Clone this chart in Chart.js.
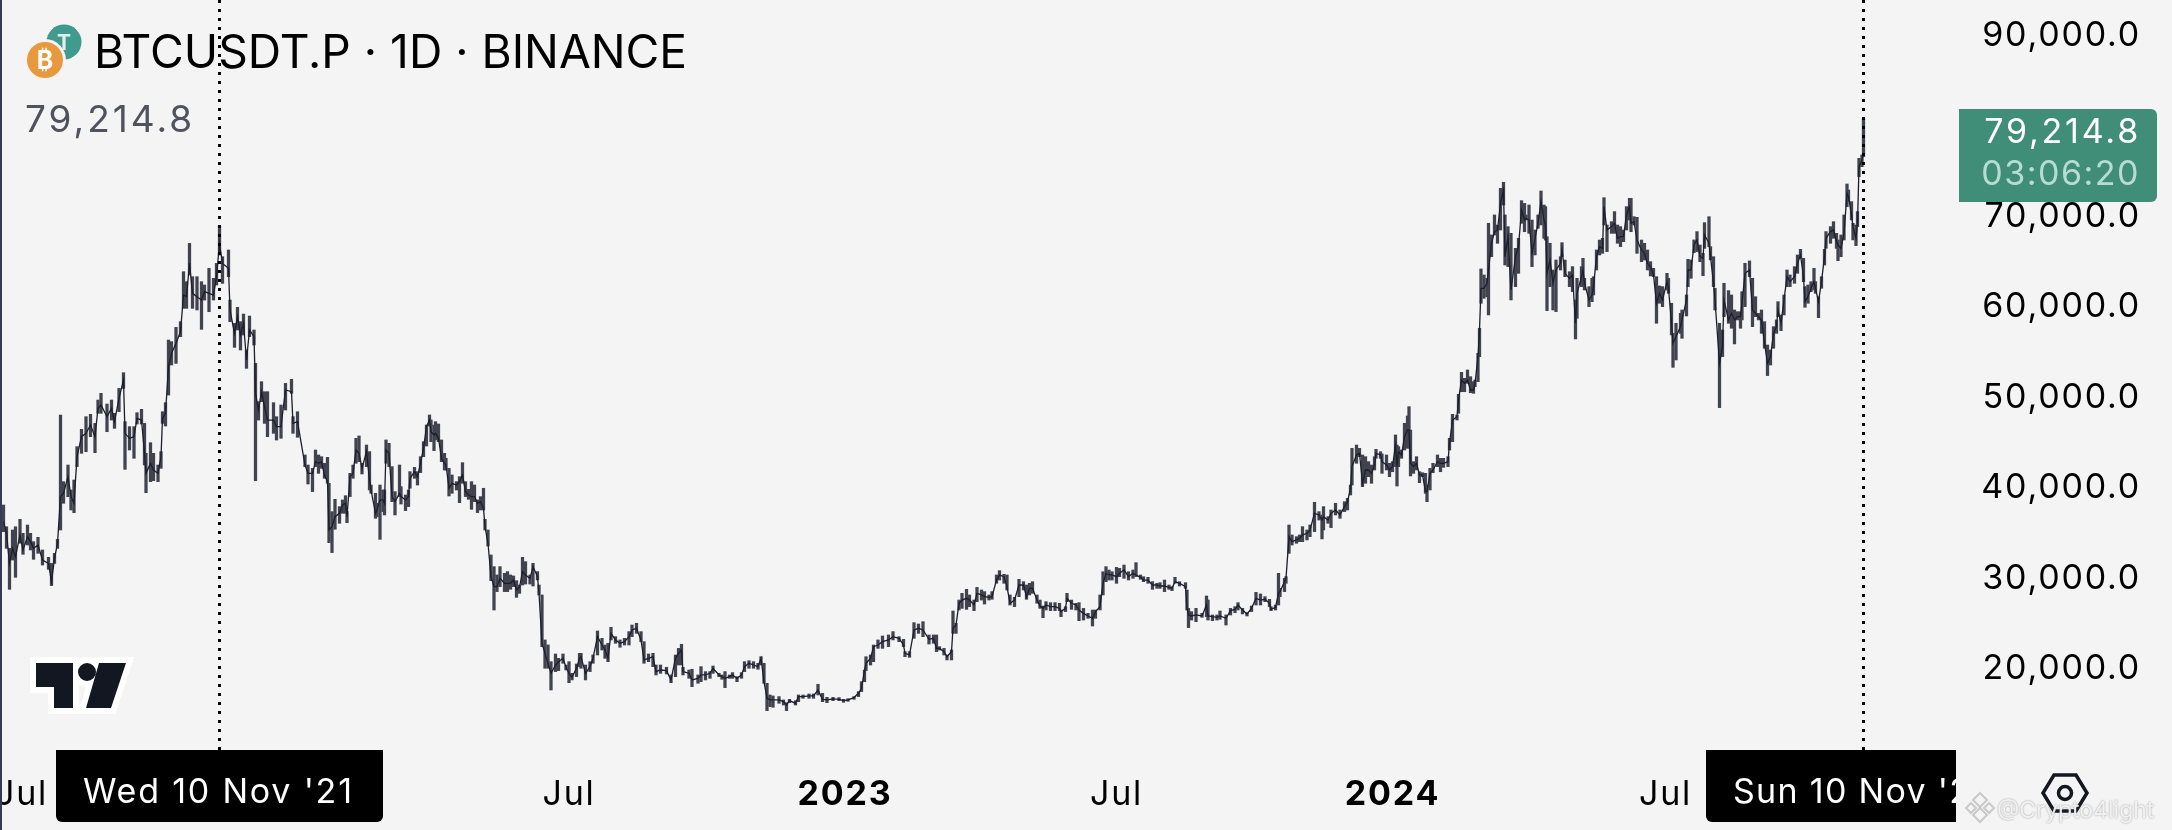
<!DOCTYPE html>
<html>
<head>
<meta charset="utf-8">
<title>BTCUSDT.P</title>
<script src="https://cdn.jsdelivr.net/npm/chart.js@4"></script>
<style>
  html, body { margin: 0; padding: 0; background: #f4f4f4; overflow: hidden; }
  canvas { display: block; }
</style>
</head>
<body>
<canvas id="priceChart" width="2172" height="830"></canvas>
<script>
// days are counted from Wed 10 Nov 2021
const days = [
  -144,-142,-140,-138,-136,-133,-131,-128,-126,-124,
  -121,-118,-114,-112,-110,-108,-106,-104,-101,-99,
  -97,-95,-92,-89,-86,-83,-81,-79,-75,-72,
  -70,-67,-64,-63,-60,-57,-55,-52,-50,-49,
  -46,-44,-41,-39,-38,-36,-34,-32,-29,-26,
  -24,-22,-20,-18,-15,-12,-10,-7,-4,-2,
  0,2,6,7,10,12,14,16,18,20,
  23,24,26,28,30,32,36,38,41,44,
  48,49,52,57,59,62,64,66,68,70,
  72,73,75,77,80,82,84,85,87,89,
  91,93,95,98,100,101,104,105,107,109,
  110,111,113,115,117,120,121,124,126,127,
  130,132,134,136,138,140,141,143,144,146,
  148,150,151,153,155,158,160,162,164,166,
  168,170,172,174,176,177,179,181,183,185,
  187,190,192,194,196,198,200,202,204,207,
  209,212,213,215,217,219,221,224,226,229,
  231,233,235,238,240,241,244,247,249,252,
  255,257,259,261,264,267,270,273,275,278,
  281,283,286,289,291,294,298,301,304,306,
  308,309,313,315,319,321,324,327,329,333,
  335,337,340,342,345,348,350,353,356,359,
  361,363,365,367,369,373,376,378,380,384,
  386,389,393,396,399,402,405,409,413,416,
  419,423,426,428,430,431,434,436,439,442,
  446,449,453,456,457,460,463,466,469,473,
  476,478,480,483,485,488,489,491,493,495,
  498,500,503,505,508,510,513,515,518,520,
  523,525,527,530,533,536,538,540,542,545,
  547,549,551,554,557,560,561,564,565,568,
  571,573,576,579,582,584,587,589,591,593,
  595,598,600,603,606,609,611,614,616,619,
  622,625,627,630,633,635,637,640,644,645,
  646,648,651,655,658,659,662,665,667,671,
  674,677,679,682,685,688,691,694,697,700,
  701,704,706,707,710,711,713,715,718,720,
  722,725,727,730,733,735,736,739,741,744,
  747,750,752,754,755,758,760,762,764,766,
  768,770,771,774,775,778,780,782,784,785,
  786,788,790,792,793,794,796,798,800,802,
  804,805,807,809,812,814,816,819,820,822,
  825,826,828,830,832,834,836,837,839,840,
  841,843,845,846,848,850,852,854,856,857,
  859,861,864,866,868,870,871,873,875,877,
  879,881,883,884,885,887,889,891,894,895,
  897,900,902,904,905,908,909,910,913,915,
  916,918,920,922,923,925,928,930,932,934,
  936,938,940,941,943,945,948,950,952,954,
  956,958,960,962,965,966,968,969,971,974,
  975,978,979,981,983,985,987,989,990,993,
  994,996,997,1000,1002,1003,1006,1008,1010,1012,
  1014,1015,1017,1020,1022,1024,1026,1028,1030,1032,
  1034,1036,1038,1039,1041,1043,1045,1047,1050,1052,
  1054,1056,1057,1059,1061,1063,1064,1066,1068,1070,
  1071,1074,1076,1078,1079,1081,1083,1085,1086,1088,
  1089,1091,1092,1093,1095,1096
];

const highs = [
  37900,35500,33110,35140,35500,36320,34770,35690,34770,33850,
  34330,32930,32120,31450,32560,34110,47840,40480,42320,39560,
  40660,44350,46260,47660,47920,46920,49500,50240,49060,49500,
  48030,50790,52520,47110,46560,46560,48100,48470,46920,43610,
  44790,43610,42320,43790,48210,49210,56130,55950,57530,58160,
  63680,62580,66810,63130,63130,62580,62210,64050,62950,64600,
  68730,65340,66080,60550,57970,59740,58160,59000,55030,58780,
  57240,53550,49320,51530,50420,50420,49210,47660,48950,51340,
  51790,47660,48210,43430,42320,41950,43980,43430,43240,42510,
  43170,40300,37170,38530,37720,38460,38930,37170,41400,42320,
  45270,45530,42510,44530,43800,40110,39190,38090,40110,39560,
  39560,45090,44720,42140,39380,42320,39930,39010,39560,41590,
  42060,41590,43240,44900,46740,47850,47300,46740,47110,46850,
  45090,43610,43060,41950,41220,40480,41030,42580,40480,39630,
  40480,40110,38460,38830,39750,36320,35140,32380,31090,30170,
  31090,30350,30540,30170,30060,29540,29060,32120,31640,30170,
  31460,30540,29060,27960,22990,22440,20590,21440,20960,21440,
  20220,20590,19300,20330,21510,21510,20220,20590,21330,23980,
  23170,22430,22620,24390,23350,22990,23170,23910,24640,24830,
  23910,22800,21440,21510,20220,20220,19970,19120,21330,22060,
  22510,19970,19670,19750,19120,20040,19490,19490,20110,19300,
  19120,19490,19120,19380,18930,19380,20590,20700,20590,20410,
  21140,20410,18200,16910,16800,16730,16360,16060,16430,16280,
  16910,16910,17020,17020,18090,17090,16650,16650,16620,16430,
  16500,16730,17280,18380,19670,21140,21330,22430,22990,23430,
  23540,23910,23350,23060,21700,21700,24900,24750,25010,23540,
  23540,23540,22250,22060,21330,21880,26190,24830,27400,28140,
  28580,27960,27400,28800,28510,28330,27960,28330,30170,30650,
  30240,30170,27960,27700,29690,29430,29060,29250,29430,27960,
  27400,26740,27220,27110,27110,27040,26300,26670,28140,27400,
  27040,27110,26480,25930,26300,26300,27960,30530,31090,30720,
  30530,31010,30900,31270,30530,30720,31530,30170,29980,29910,
  29430,29250,29320,29610,29060,28880,29910,29430,29320,28510,
  26480,26120,26480,25930,27850,27400,25750,25750,26190,25750,
  26480,26670,27110,26480,26000,26740,28250,28070,27770,27480,
  26670,26850,30350,28690,29800,29980,35690,34590,34400,34590,
  35510,35140,35690,38200,37170,36800,37720,36610,37350,38090,
  37350,38270,38640,40110,44160,44530,44160,43430,43240,42690,
  42320,43240,44050,43790,43540,43430,42510,42690,45640,44530,
  44350,43980,46930,47740,48770,46190,42690,43240,41580,41470,
  41400,40110,41950,42510,43430,43060,43060,43240,45270,47920,
  47850,50130,52560,51900,52820,52080,51530,51710,54660,57430,
  63980,63320,62950,69030,67740,69950,68840,72890,73560,69950,
  68660,67920,66260,67370,71530,71230,69950,71050,69390,68290,
  69950,72600,71050,70870,67550,66820,63870,64970,65340,66890,
  64970,63680,64240,60560,62950,64240,65160,62950,62030,62950,
  63130,66080,67180,67370,71860,68840,69210,70320,68840,68660,
  68290,70870,71790,71790,69760,69690,67180,66820,66080,64790,
  64050,63130,62100,62030,63500,62950,60190,56870,57980,59080,
  59450,61110,65050,64970,67190,68110,66630,65710,69100,69760,
  66450,65340,61850,57980,57240,62400,61590,61110,59450,59260,
  59260,61470,64610,64870,62950,60920,59080,59450,58160,55580,
  55030,57610,58350,60370,58900,61110,63870,63320,64240,65530,
  66150,65160,62030,62210,62580,64050,62580,60920,63130,66150,
  68110,68660,69210,67920,67190,67740,69950,73370,72710,71420,
  69030,68840,70320,76210,76580,80630
];

const lows = [
  34950,33110,28580,31820,29910,33670,32450,33480,32930,31900,
  32560,31270,30790,29000,31450,33110,35140,38090,38820,37350,
  37050,42140,43610,43790,45450,43680,48030,48030,46000,47290,
  46370,48210,50790,41840,43980,43060,46850,46850,42320,39260,
  40480,40590,40480,41950,46920,46630,50050,53370,53550,56500,
  59630,59630,63310,59630,59450,57310,60550,59260,60550,62210,
  65520,62390,63130,58160,55320,57240,55030,56680,53000,56500,
  55580,40590,47290,49320,46920,45450,45820,45080,45270,48400,
  50240,45820,45380,42140,40220,39380,42140,41400,41950,40850,
  40300,33740,32640,35220,35880,36980,36980,35950,38830,40850,
  42510,42690,41330,42140,39560,39190,36430,36610,34110,37170,
  36800,42510,42140,38270,36800,38830,38010,37280,37720,39750,
  40850,40110,41480,43240,44420,46630,44900,43910,45090,44900,
  42690,41770,41770,38900,39190,39560,38160,40300,38830,38530,
  37420,38270,37060,37350,37350,35140,33370,29540,26300,28330,
  28880,28330,28330,28590,28880,27700,28140,29060,29170,29170,
  28950,29620,27960,22250,19860,19860,17460,19490,19600,20410,
  19670,18270,18570,18940,20040,19860,18570,19490,20410,21330,
  21880,20960,20590,22990,22620,22180,22430,22430,23350,23720,
  22800,20410,20590,20040,19120,19300,19230,18270,18930,20220,
  20220,19120,18750,17830,18200,18380,18570,18750,19300,18930,
  18640,17720,18750,18750,18380,18750,19490,19860,19860,19750,
  20220,18200,15180,15620,15550,15990,15800,15180,16060,15800,
  16170,16540,16540,16540,16910,16170,16060,16280,16280,16100,
  16210,16430,16730,17280,18380,19600,20220,20590,22060,22060,
  22250,22990,22800,22250,21140,21070,23170,23720,23350,22540,
  22620,21700,21880,21330,20780,20780,23720,23720,26300,26480,
  26370,26670,26230,27220,27400,26960,27400,27480,29250,29610,
  29250,28510,26850,26670,27770,28510,27480,27960,28140,27040,
  26480,25450,26300,26230,26230,26230,25560,26120,27220,26370,
  26300,25120,25190,25380,24530,25380,26300,27960,29430,29610,
  29610,29250,29980,29800,29610,29800,29980,29690,29430,29250,
  28580,28690,28690,28330,28580,28440,29250,28950,28690,26300,
  24350,25190,25010,25490,25560,25190,25120,25190,25270,24640,
  25750,26000,26300,25860,25640,26120,26850,26850,27220,26670,
  26230,26300,26850,27770,28330,29250,32560,33480,33670,33850,
  33850,34040,34400,34960,36240,34150,35140,35880,35400,36800,
  36430,37170,37350,39010,40110,42510,43240,39930,40300,41030,
  40300,41770,43060,43060,41400,41770,41030,41580,42140,40000,
  42140,43060,43980,44160,46000,41110,41400,41770,40370,41030,
  39190,38270,39560,41470,42140,41580,42060,42140,43980,44900,
  47290,48030,50420,50420,51340,50310,50240,50980,51530,54290,
  60190,60740,60920,58900,65340,67740,66820,68290,71050,64420,
  64240,60560,62030,63500,69030,68100,69390,67920,64240,65530,
  68470,68840,67370,67180,59380,62030,59450,59270,63870,65340,
  63130,62030,61480,56250,58530,62030,62400,61660,59820,60370,
  61110,63870,65530,65710,68840,65900,67920,67920,66820,66450,
  67000,68290,69390,68100,68840,65710,64790,64970,63870,63210,
  63130,57980,60190,59820,61660,61290,56690,53110,53930,56870,
  56320,58790,62030,62950,65780,65900,64790,63240,66260,66450,
  64980,62030,59450,48660,54300,58710,57980,57430,55700,58350,
  57430,58350,59820,63130,57610,58710,58350,56870,55220,52200,
  53370,55220,56870,58710,57170,58900,62030,62030,62400,63500,
  65160,62580,59750,60190,61470,61660,61290,58600,61850,64420,
  66260,66820,67370,66260,64900,65340,67190,70870,71420,69400,
  67190,66560,68660,74180,75290,76390
];

const closes = [
  36060,34770,31450,33110,32190,34590,32930,34400,33850,33110,
  33480,31820,31450,29430,32010,33670,38820,39190,41030,38820,
  38090,43240,45450,45820,46740,45450,48580,48950,47660,48580,
  47110,49690,51710,45820,45270,45450,47480,47290,43610,41400,
  42500,41770,41400,43240,47480,48030,53180,54660,55760,57050,
  61100,60920,64600,61290,60920,60550,61470,61290,61100,63130,
  66810,64600,64050,59450,56870,58710,56680,57970,53920,57240,
  56500,50240,48400,50420,48770,47290,47290,46560,46560,50610,
  50420,46920,47110,42320,41400,41400,42690,42510,42690,41220,
  40480,35140,35510,36610,36980,37900,38090,36610,41030,41400,
  43980,43610,41950,43800,40670,39560,36980,37350,38460,38460,
  38090,43980,43610,38830,38270,39190,38830,38460,38830,40850,
  41590,41030,42510,44160,46560,47300,46010,45640,45820,45270,
  43060,42510,42320,39750,40300,40110,40480,41220,39380,39010,
  38830,38830,38090,38270,37530,35510,33670,29990,28880,28880,
  29800,29250,29250,29250,29620,28510,28810,30540,30170,29800,
  31090,29990,28140,22620,21510,20410,19300,20220,20590,20960,
  19970,19300,18860,19860,20960,21140,19300,20040,20960,23350,
  22430,21880,20960,23720,22990,22620,22800,23350,24090,24280,
  22990,20780,20960,21140,19490,19670,19600,18570,20960,21510,
  21880,19490,19300,18570,18750,19120,19120,19300,19860,19120,
  18930,18750,18930,19120,18750,19120,20040,20410,20220,20040,
  20960,18380,16540,16360,16360,16360,16170,15800,16280,15990,
  16730,16730,16800,16800,17460,16430,16360,16470,16430,16280,
  16360,16620,17090,17650,19600,20410,20960,22250,22430,22800,
  22990,23350,23170,22430,21510,21330,24090,24280,24090,23060,
  23170,22060,22060,21700,21140,21700,24270,24640,27040,27400,
  27590,27400,26850,28140,27960,27770,27700,27770,29610,30170,
  29980,28880,27040,27400,29060,29060,27770,28690,28690,27400,
  26740,26480,26850,26670,26670,26480,26120,26480,27590,27040,
  26850,26300,25930,25640,25380,26120,26670,29250,30350,30170,
  30170,29980,30350,30720,29980,30350,30170,29910,29610,29610,
  29060,29060,28950,28950,28800,28690,29430,29250,28880,26480,
  25750,25640,25750,25640,26850,25640,25560,25490,25640,25380,
  26230,26370,26850,26300,25860,26480,27590,27400,27480,27040,
  26370,26600,28140,28330,29430,29800,34400,33850,34040,34220,
  34590,34770,35140,36980,36800,36240,36610,36240,36980,37350,
  36800,37720,38270,39750,42140,43430,43610,40300,41770,41770,
  41400,42320,43610,43430,42690,42320,41770,42140,44530,42140,
  43790,43430,45450,46190,46190,42510,42140,42510,41220,41220,
  39380,39380,41400,41770,42690,42510,42510,42690,44720,47290,
  47660,49500,51710,51340,51710,50610,50610,51340,54290,57240,
  61840,61840,62400,63870,66820,68100,68290,71230,72710,65340,
  67550,61660,65340,66450,70500,69390,69580,69390,65710,67370,
  69030,71420,69390,68840,63500,64970,62400,63870,64600,66080,
  63500,62950,63320,57980,61290,63130,63870,62400,60560,61110,
  62030,65340,66450,66260,70870,68290,68660,69030,67370,67550,
  67550,69950,70870,69030,69210,67180,66080,65710,64600,64240,
  63320,60190,61290,60560,62580,61840,57980,55770,56500,57610,
  58350,60560,63870,63870,66630,67190,65340,65160,67740,66820,
  65340,62400,60560,53560,55400,60560,58350,59080,58350,58710,
  58710,60190,63500,63870,59450,59080,58710,58350,55770,53560,
  54300,56870,57610,59450,57980,60560,63130,62580,63130,64610,
  65530,63130,60370,60920,61840,62580,61840,60370,62580,65340,
  67370,68110,68290,67000,66630,66260,67920,72340,71970,69950,
  68660,67370,69030,75290,76020,76760
];

const priceTicks = [20000, 30000, 40000, 50000, 60000, 70000, 90000];
const timeTicks = [-132, 233, 417, 598, 782, 964];
const timeTickLabels = ["Jul", "Jul", "2023", "Jul", "2024", "Jul"];
const crosshairDays = [0, 1096];
const crosshairLabels = ["Wed 10 Nov '21", "Sun 10 Nov '24"];

const lastPrice = "79,214.8";
const countdown = "03:06:20";
const title = "BTCUSDT.P · 1D · BINANCE";

const fontName = "Inter, 'Liberation Sans', sans-serif";

function drawText(ctx, text, x, y, size, color, align, spacing, weight) {
  ctx.font = (weight || "400") + " " + size + "px " + fontName;
  ctx.letterSpacing = (spacing || 0) + "px";
  ctx.textAlign = align || "left";
  ctx.textBaseline = "alphabetic";
  ctx.fillStyle = color;
  ctx.fillText(text, x, y);
}

function drawLogo(ctx) {
  const mark = new Path2D();
  mark.moveTo(36, 663); mark.lineTo(73, 663); mark.lineTo(73, 708);
  mark.lineTo(54, 708); mark.lineTo(54, 687); mark.lineTo(36, 687); mark.closePath();
  mark.moveTo(99, 663); mark.lineTo(126, 663); mark.lineTo(111, 708);
  mark.lineTo(86, 708); mark.closePath();
  mark.moveTo(96, 672); mark.arc(87, 672, 9, 0, Math.PI * 2);
  ctx.strokeStyle = "#ffffff";
  ctx.lineWidth = 12;
  ctx.lineJoin = "miter";
  ctx.stroke(mark);
  ctx.fillStyle = "#131722";
  ctx.fill(mark);
}

function drawCoins(ctx) {
  ctx.fillStyle = "#409a8d";
  ctx.beginPath(); ctx.arc(64, 42, 17.5, 0, Math.PI * 2); ctx.fill();
  drawText(ctx, "T", 64, 50, 21, "#dff1ee", "center", 0, "700");
  ctx.fillStyle = "#f4f4f4";
  ctx.beginPath(); ctx.arc(45, 60, 21, 0, Math.PI * 2); ctx.fill();
  ctx.fillStyle = "#e9993d";
  ctx.beginPath(); ctx.arc(45, 60, 18, 0, Math.PI * 2); ctx.fill();
  drawText(ctx, "₿", 45, 69, 25, "#ffffff", "center", 0, "700");
}

function drawPriceTag(ctx) {
  ctx.fillStyle = "#408e78";
  ctx.beginPath();
  ctx.roundRect(1959, 109, 198, 93, [0, 6, 6, 0]);
  ctx.fill();
  drawText(ctx, lastPrice, 2141, 143, 34, "#ffffff", "right", 2.8);
  drawText(ctx, countdown, 2140, 185, 34, "#b7dcd2", "right", 1.5);
}

function drawDateBoxes(ctx, chart) {
  const xScale = chart.scales.x;
  ctx.strokeStyle = "#000000";
  ctx.lineWidth = 3;
  ctx.setLineDash([3, 6]);
  crosshairDays.forEach(d => {
    const x = xScale.getPixelForValue(d);
    ctx.beginPath();
    ctx.moveTo(x, 0);
    ctx.lineTo(x, 750);
    ctx.stroke();
  });
  ctx.setLineDash([]);

  ctx.fillStyle = "#000000";
  ctx.beginPath();
  ctx.roundRect(56, 750, 327, 72, [0, 0, 6, 6]);
  ctx.fill();
  drawText(ctx, crosshairLabels[0], 83, 803, 34, "#ffffff", "left", 1.8);

  ctx.save();
  ctx.beginPath();
  ctx.roundRect(1706, 750, 250, 72, [0, 0, 0, 6]);
  ctx.clip();
  ctx.fillStyle = "#000000";
  ctx.fillRect(1706, 750, 250, 72);
  drawText(ctx, crosshairLabels[1], 1733, 803, 34, "#ffffff", "left", 1.3);
  ctx.restore();
}

function drawSettings(ctx) {
  const cx = 2065, cy = 793;
  ctx.strokeStyle = "#131722";
  ctx.lineWidth = 3.5;
  ctx.beginPath();
  ctx.moveTo(cx - 11, cy - 18); ctx.lineTo(cx + 11, cy - 18); ctx.lineTo(cx + 22, cy);
  ctx.lineTo(cx + 11, cy + 18); ctx.lineTo(cx - 11, cy + 18); ctx.lineTo(cx - 22, cy);
  ctx.closePath();
  ctx.stroke();
  ctx.beginPath(); ctx.arc(cx, cy, 6.5, 0, Math.PI * 2); ctx.stroke();
}

function drawWatermark(ctx) {
  ctx.save();
  ctx.strokeStyle = "rgba(190,190,190,0.8)";
  ctx.lineWidth = 2;
  [[1980, 800, 7], [1971, 808, 5], [1989, 808, 5], [1980, 815, 7]].forEach(d => {
    ctx.beginPath();
    ctx.moveTo(d[0], d[1] - d[2]); ctx.lineTo(d[0] + d[2], d[1]);
    ctx.lineTo(d[0], d[1] + d[2]); ctx.lineTo(d[0] - d[2], d[1]);
    ctx.closePath();
    ctx.stroke();
  });
  ctx.shadowColor = "rgba(120,120,120,0.8)";
  ctx.shadowBlur = 2;
  drawText(ctx, "@Crypto4light", 1997, 818, 23, "rgba(245,245,245,0.92)", "left", 0);
  ctx.restore();
}

const overlayPlugin = {
  id: "overlay",
  beforeDraw(chart) {
    // tick labels are a bit wider than the font gives
    chart.ctx.letterSpacing = "1.8px";
  },
  afterDraw(chart) {
    const ctx = chart.ctx;
    ctx.save();
    ctx.fillStyle = "#363a56";
    ctx.fillRect(0, 0, 2, 830);
    drawDateBoxes(ctx, chart);
    drawCoins(ctx);
    drawText(ctx, title, 94, 68, 46.2, "#000000", "left", 0);
    drawText(ctx, lastPrice, 25, 132, 37, "#50535e", "left", 3);
    drawLogo(ctx);
    drawPriceTag(ctx);
    drawSettings(ctx);
    drawWatermark(ctx);
    ctx.restore();
  }
};

new Chart(document.getElementById("priceChart"), {
  data: {
    datasets: [
      {
        type: "line",
        data: days.map((d, i) => ({ x: d, y: closes[i] })),
        borderColor: "#1c1e2b",
        borderWidth: 1.3,
        pointRadius: 0,
        tension: 0,
        order: 1
      },
      {
        type: "bar",
        data: days.map((d, i) => ({ x: d, y: [lows[i], highs[i]] })),
        backgroundColor: "#41434f",
        barThickness: 2.6,
        order: 2
      }
    ]
  },
  options: {
    responsive: false,
    animation: false,
    devicePixelRatio: 1,
    layout: { padding: { left: 2, right: 31, top: 0, bottom: 0 } },
    plugins: { legend: { display: false }, tooltip: { enabled: false } },
    scales: {
      x: {
        type: "linear",
        offset: false,
        min: -145,
        max: 1157.67,
        grid: { display: false },
        border: { display: false },
        afterFit(scale) { scale.height = 80; scale.paddingLeft = 0; scale.paddingRight = 0; },
        afterBuildTicks(scale) { scale.ticks = timeTicks.map(v => ({ value: v })); },
        ticks: {
          autoSkip: false,
          maxRotation: 0,
          padding: 16,
          color: "#000000",
          font: c => ({
            family: fontName,
            size: 34,
            weight: timeTickLabels[c.index] && timeTickLabels[c.index].length === 4 ? "700" : "400"
          }),
          callback: (v, i) => timeTickLabels[i]
        }
      },
      y: {
        position: "right",
        min: 10829,
        max: 93703,
        grid: { display: false },
        border: { display: false },
        afterFit(scale) { scale.width = 185; scale.paddingTop = 0; scale.paddingBottom = 0; },
        afterBuildTicks(scale) { scale.ticks = priceTicks.map(v => ({ value: v })); },
        ticks: {
          crossAlign: "far",
          labelOffset: 2,
          color: "#000000",
          font: { family: fontName, size: 34 },
          callback: v => v.toLocaleString("en-US", { minimumFractionDigits: 1 })
        }
      }
    }
  },
  plugins: [overlayPlugin]
});
</script>
</body>
</html>
